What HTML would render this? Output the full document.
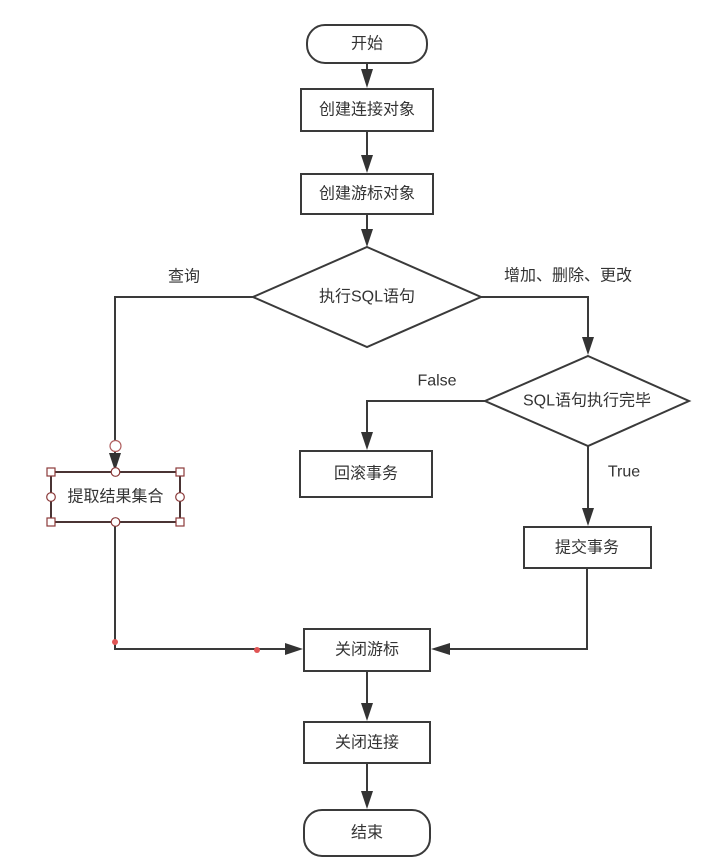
<!DOCTYPE html>
<html>
<head>
<meta charset="utf-8">
<style>
  html, body { margin: 0; padding: 0; background: #ffffff; }
  svg { display: block; }
  text { font-family: "Liberation Sans", "Noto Sans CJK SC", sans-serif; font-size: 16px; fill: #333333; }
</style>
</head>
<body>
<svg width="721" height="862" viewBox="0 0 721 862" xmlns="http://www.w3.org/2000/svg">
  <rect x="0" y="0" width="721" height="862" fill="#ffffff"/>

  <g stroke="#3a3a3a" stroke-width="2" fill="none">
    <!-- shapes -->
    <rect x="307" y="25" width="120" height="38" rx="18" ry="18" fill="#fff"/>
    <rect x="301" y="89" width="132" height="42" fill="#fff"/>
    <rect x="301" y="174" width="132" height="40" fill="#fff"/>
    <polygon points="367,247 481,297 367,347 253,297" fill="#fff"/>
    <polygon points="588,356 689,401 588,446 485,401" fill="#fff"/>
    <rect x="300" y="451" width="132" height="46" fill="#fff"/>
    <rect x="524" y="527" width="127" height="41" fill="#fff"/>
    <rect x="304" y="629" width="126" height="42" fill="#fff"/>
    <rect x="304" y="722" width="126" height="41" fill="#fff"/>
    <rect x="304" y="810" width="126" height="46" rx="18" ry="18" fill="#fff"/>

    <!-- connectors -->
    <line x1="367" y1="63" x2="367" y2="74"/>
    <line x1="367" y1="131" x2="367" y2="158"/>
    <line x1="367" y1="214" x2="367" y2="232"/>
    <polyline points="253,297 115,297 115,456"/>
    <polyline points="481,297 588,297 588,340"/>
    <polyline points="485,401 367,401 367,435"/>
    <line x1="588" y1="446" x2="588" y2="511"/>
    <polyline points="587,568 587,649 447,649"/>
    <polyline points="115,522 115,649 288,649"/>
    <line x1="367" y1="671" x2="367" y2="706"/>
    <line x1="367" y1="763" x2="367" y2="794"/>
  </g>

  <!-- arrowheads -->
  <g fill="#333333">
    <polygon points="361,69 373,69 367,88"/>
    <polygon points="361,155 373,155 367,173"/>
    <polygon points="361,229 373,229 367,247"/>
    <polygon points="109,453 121,453 115,471"/>
    <polygon points="582,337 594,337 588,355"/>
    <polygon points="361,432 373,432 367,450"/>
    <polygon points="582,508 594,508 588,526"/>
    <polygon points="450,643 450,655 431,649"/>
    <polygon points="285,643 285,655 303,649"/>
    <polygon points="361,703 373,703 367,721"/>
    <polygon points="361,791 373,791 367,809"/>
  </g>

  <!-- selected box 提取结果集合 -->
  <rect x="51" y="472" width="129" height="50" fill="#fff" stroke="#4a3434" stroke-width="2"/>
  <g fill="#fff" stroke="#8b3a3a" stroke-width="1.2">
    <rect x="47" y="468" width="8" height="8"/>
    <rect x="176" y="468" width="8" height="8"/>
    <rect x="47" y="518" width="8" height="8"/>
    <rect x="176" y="518" width="8" height="8"/>
    <circle cx="115.5" cy="472" r="4.3"/>
    <circle cx="115.5" cy="522" r="4.3"/>
    <circle cx="51" cy="497" r="4.3"/>
    <circle cx="180" cy="497" r="4.3"/>
    <circle cx="115.5" cy="446" r="5.5" fill="#fff" stroke="#b06060"/>
  </g>
  <circle cx="115" cy="642" r="3" fill="#e05555"/>
  <circle cx="257" cy="650" r="3" fill="#e05555"/>

  <!-- labels -->
  <g text-anchor="middle" dominant-baseline="central">
    <text x="367" y="44">开始</text>
    <text x="367" y="110">创建连接对象</text>
    <text x="367" y="194">创建游标对象</text>
    <text x="367" y="297">执行SQL语句</text>
    <text x="587" y="401">SQL语句执行完毕</text>
    <text x="366" y="474">回滚事务</text>
    <text x="587" y="548">提交事务</text>
    <text x="115.5" y="497">提取结果集合</text>
    <text x="367" y="650">关闭游标</text>
    <text x="367" y="743">关闭连接</text>
    <text x="367" y="833">结束</text>
    <text x="184" y="277">查询</text>
    <text x="568" y="276">增加、删除、更改</text>
    <text x="437" y="381">False</text>
    <text x="624" y="472">True</text>
  </g>
</svg>
</body>
</html>
